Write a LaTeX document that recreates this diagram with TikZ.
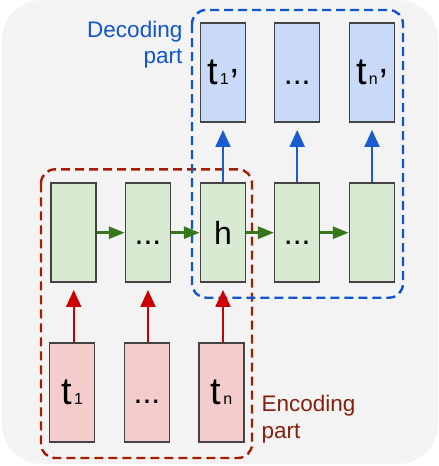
\documentclass[tikz,border=0pt]{standalone}
\usepackage{fontspec}
\setmainfont{Liberation Sans}
\usetikzlibrary{arrows.meta}
\definecolor{bgcol}{HTML}{F3F3F3}
\definecolor{decfill}{HTML}{C9DAF8}
\definecolor{hidfill}{HTML}{D9EAD3}
\definecolor{encfill}{HTML}{F4CCCC}
\definecolor{cellborder}{HTML}{434343}
\definecolor{bluearr}{HTML}{1A5BD0}
\definecolor{redarr}{HTML}{CC0000}
\definecolor{greenarr}{HTML}{38761D}
\definecolor{bluedash}{HTML}{1155CC}
\definecolor{reddash}{HTML}{A61C00}
\definecolor{enctext}{HTML}{85200C}
\newcommand{\tlab}[2]{{\fontsize{38}{38}\selectfont t}\kern2pt{\fontsize{16}{16}\selectfont #1}#2}
\newcommand{\prm}{\kern1.5pt\raisebox{-11pt}[0pt][0pt]{\fontsize{38}{38}\selectfont ’}}
\newcommand{\dotslab}[1]{{\fontsize{#1}{#1}\selectfont\vphantom{h}...}}
\begin{document}
\begin{tikzpicture}[x=1pt,y=-1pt,
  cell/.style={draw=cellborder, line width=1.5pt, minimum width=45pt, minimum height=99pt, inner sep=0pt},
  dec/.style={cell, fill=decfill},
  hid/.style={cell, fill=hidfill},
  enc/.style={cell, fill=encfill},
  part/.style={rounded corners=14pt, line width=2.4pt, dash pattern=on 9pt off 5pt},
  vup/.style={-{Triangle[length=17pt,width=15pt]}, line width=2pt, shorten >=7pt},
  hright/.style={-{Triangle[length=16pt,width=12pt]}, line width=3pt, draw=greenarr},
  lbl/.style={font=\fontsize{22.5}{22.5}\selectfont, inner sep=0pt}
]
\useasboundingbox (0,0) rectangle (439,466);
\fill[bgcol, rounded corners=40pt] (2,0) rectangle (438,464);

% dashed groups
\draw[part, draw=reddash] (41,169.3) rectangle (252,458);
\draw[part, draw=bluedash] (192,10) rectangle (403,297.7);

% decoder row
\node[dec] (d1) at (222.9,72.7) {\tlab{1}{\prm}};
\node[dec] (d2) at (297.2,72.7) {\dotslab{32}};
\node[dec] (d3) at (372,72.7) {\tlab{n}{\prm}};

% hidden row
\node[hid] (m1) at (73.7,232.7) {};
\node[hid] (m2) at (148,232.7) {\dotslab{32}};
\node[hid] (m3) at (223,232.7) {\fontsize{32}{32}\selectfont h};
\node[hid] (m4) at (297.2,232.7) {\dotslab{32}};
\node[hid] (m5) at (372,232.7) {};

% encoder row
\node[enc] (e1) at (72.2,392.3) {\tlab{1}{}};
\node[enc] (e2) at (147,392.3) {\dotslab{32}};
\node[enc] (e3) at (221.6,392.3) {\tlab{n}{}};

% arrows
\draw[hright] (m1) -- (m2);
\draw[hright] (m2) -- (m3);
\draw[hright] (m3) -- (m4);
\draw[hright] (m4) -- (m5);

\draw[vup, draw=redarr, fill=redarr] (e1.north -| m1.south) -- (m1.south);
\draw[vup, draw=redarr, fill=redarr] (e2.north -| m2.south) -- (m2.south);
\draw[vup, draw=redarr, fill=redarr] (e3.north -| m3.south) -- (m3.south);

\draw[vup, draw=bluearr, fill=bluearr] (m3.north) -- (d1.south -| m3.north);
\draw[vup, draw=bluearr, fill=bluearr] (m4.north) -- (d2.south -| m4.north);
\draw[vup, draw=bluearr, fill=bluearr] (m5.north) -- (d3.south -| m5.north);

% labels
\node[lbl, text=bluedash, anchor=base east] (dl1) at (182.5,37.3) {Decoding};
\node[lbl, text=bluedash, anchor=base east] (dl2) at (182.5,63.8) {part};
\node[lbl, text=enctext, anchor=base west] (el1) at (261.5,411.7) {Encoding};
\node[lbl, text=enctext, anchor=base west] (el2) at (261.5,438.3) {part};
\end{tikzpicture}
\end{document}
